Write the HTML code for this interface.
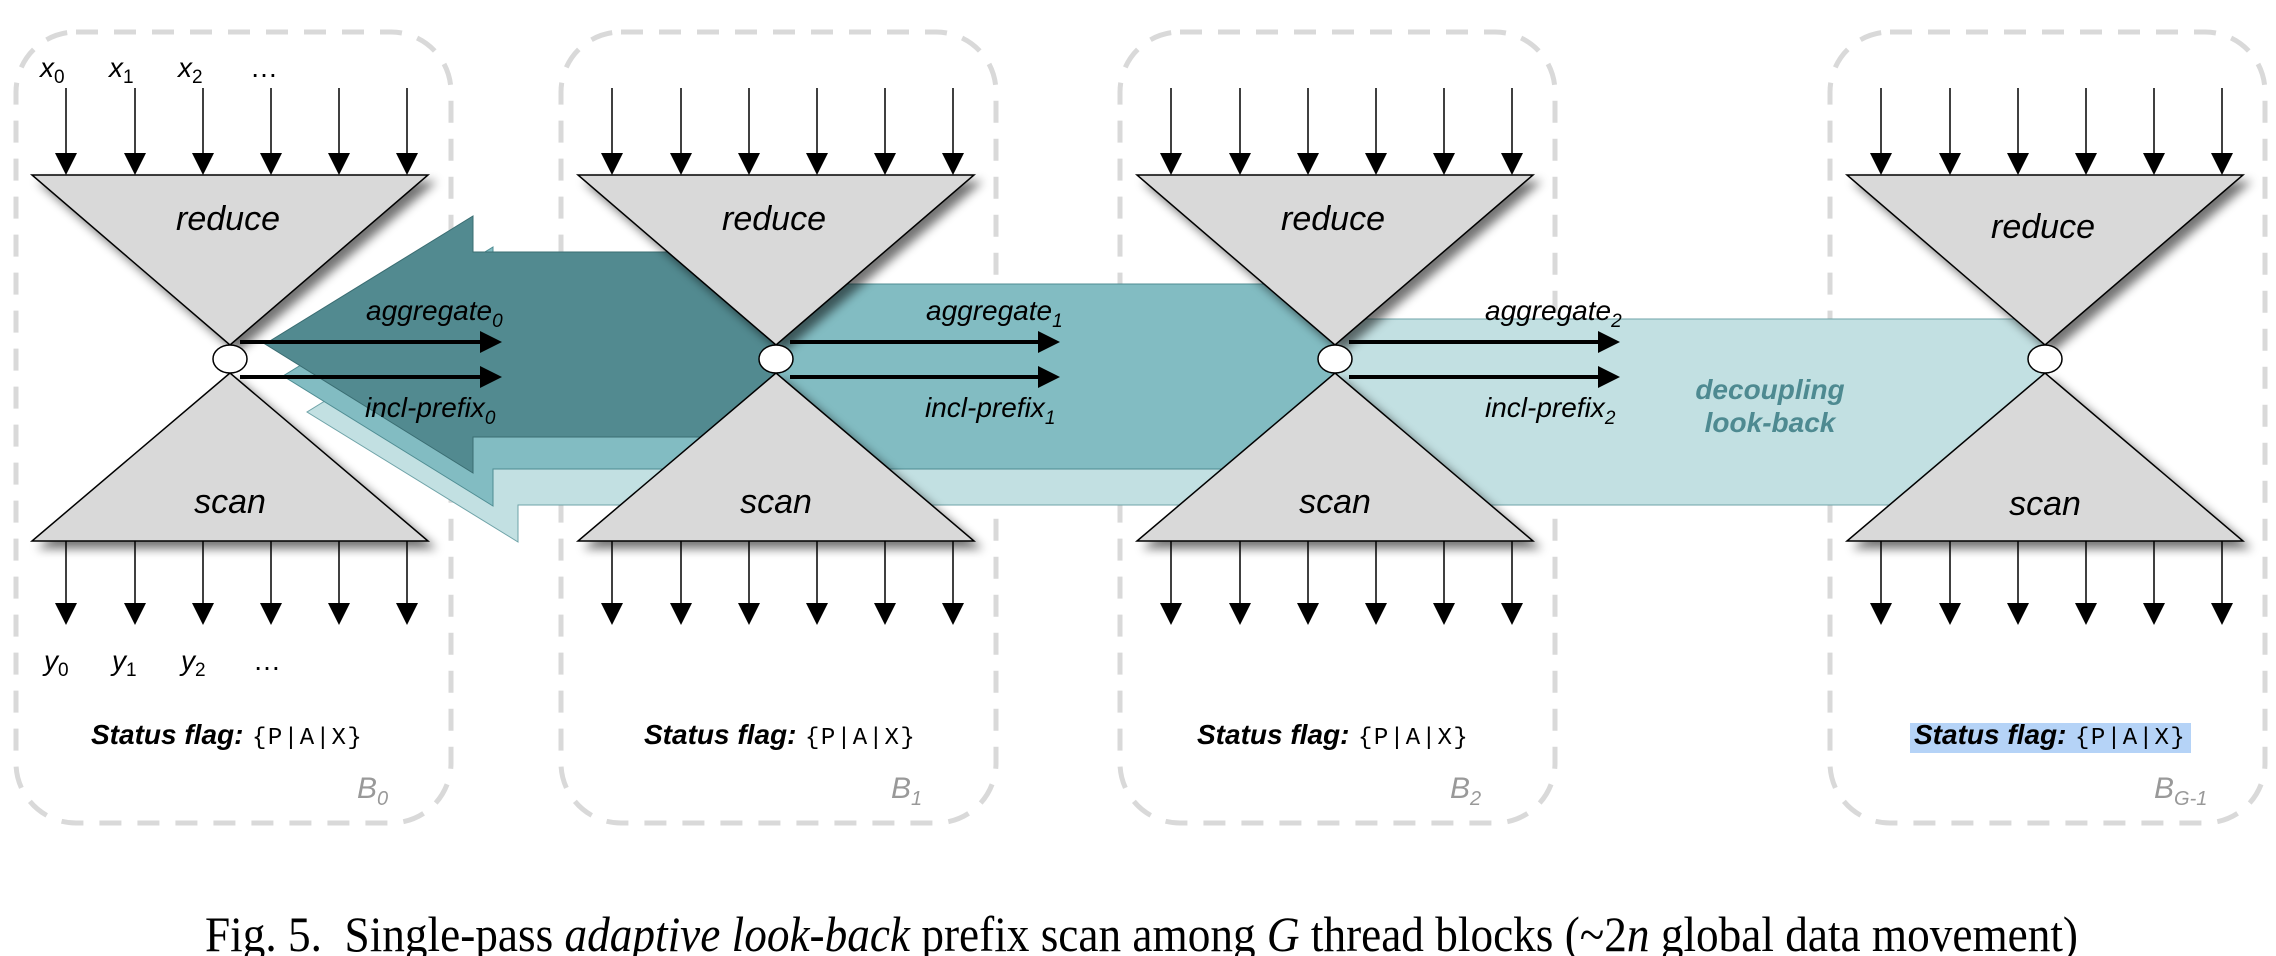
<!DOCTYPE html>
<html><head><meta charset="utf-8"><style>
html,body{margin:0;padding:0;background:#fff;}
svg{display:block;}
.s{font-family:"Liberation Sans",Arial,sans-serif;}
.m{font-family:"Liberation Mono",monospace;}
.c{font-family:"Liberation Serif","Times New Roman",serif;}
</style></head><body>
<svg width="2276" height="956" viewBox="0 0 2276 956" xmlns="http://www.w3.org/2000/svg">
<defs>
<filter id="sh" x="-20%" y="-20%" width="150%" height="150%">
<feGaussianBlur in="SourceAlpha" stdDeviation="5"/>
<feOffset dx="7" dy="7" result="b"/>
<feComponentTransfer><feFuncA type="linear" slope="0.55"/></feComponentTransfer>
<feMerge><feMergeNode/><feMergeNode in="SourceGraphic"/></feMerge>
</filter>
<g id="blk">
<g stroke="#000" stroke-width="1.5">
<line x1="66" y1="88" x2="66" y2="160"/><line x1="135" y1="88" x2="135" y2="160"/><line x1="203" y1="88" x2="203" y2="160"/><line x1="271" y1="88" x2="271" y2="160"/><line x1="339" y1="88" x2="339" y2="160"/><line x1="407" y1="88" x2="407" y2="160"/>
<line x1="66" y1="541" x2="66" y2="610"/><line x1="135" y1="541" x2="135" y2="610"/><line x1="203" y1="541" x2="203" y2="610"/><line x1="271" y1="541" x2="271" y2="610"/><line x1="339" y1="541" x2="339" y2="610"/><line x1="407" y1="541" x2="407" y2="610"/>
</g>
<g fill="#000">
<polygon points="55,153 77,153 66,175"/><polygon points="124,153 146,153 135,175"/><polygon points="192,153 214,153 203,175"/><polygon points="260,153 282,153 271,175"/><polygon points="328,153 350,153 339,175"/><polygon points="396,153 418,153 407,175"/>
<polygon points="55,603 77,603 66,625"/><polygon points="124,603 146,603 135,625"/><polygon points="192,603 214,603 203,625"/><polygon points="260,603 282,603 271,625"/><polygon points="328,603 350,603 339,625"/><polygon points="396,603 418,603 407,625"/>
</g>
<polygon points="32,175 428,175 230,345" fill="#d9d9d9" stroke="#000" stroke-width="1.5" filter="url(#sh)"/>
<polygon points="32,541 428,541 230,373" fill="#d9d9d9" stroke="#000" stroke-width="1.5" filter="url(#sh)"/>
<ellipse cx="230" cy="359" rx="17" ry="14" fill="#fff" stroke="#000" stroke-width="1.5"/>
</g>
</defs>

<g fill="none" stroke="#d9d9d9" stroke-width="5" stroke-dasharray="22 16">
<rect x="16" y="32" width="435" height="791" rx="60"/>
<rect x="561" y="32" width="435" height="791" rx="60"/>
<rect x="1120" y="32" width="435" height="791" rx="60"/>
<rect x="1830" y="32" width="435" height="791" rx="60"/>
</g>

<polygon points="2045,319 518,319 518,282 307,412 518,542 518,505 2045,505" fill="#c2e0e2" stroke="#6fa3a8" stroke-width="1"/>
<polygon points="1335,284 493,284 493,247 283,376 493,506 493,469 1335,469" fill="#82bcc2" stroke="#4f8d93" stroke-width="1"/>
<polygon points="776,252 473,252 473,216 265,344 473,473 473,437 776,437" fill="#528a90" stroke="#3a6d72" stroke-width="1"/>

<g class="s">
<text x="1770" y="399" text-anchor="middle" font-size="28" font-weight="bold" font-style="italic" fill="#4e8a91">decoupling</text>
<text x="1770" y="432" text-anchor="middle" font-size="28" font-weight="bold" font-style="italic" fill="#4e8a91">look-back</text>

<!-- B0 -->
<g>
<use href="#blk"/>
<text x="228" y="230" text-anchor="middle" font-size="34" font-style="italic">reduce</text>
<text x="230" y="513" text-anchor="middle" font-size="34" font-style="italic">scan</text>
<g stroke="#000" stroke-width="4"><line x1="240" y1="342" x2="482" y2="342"/><line x1="240" y1="377" x2="482" y2="377"/></g>
<polygon points="480,331 502,342 480,353" fill="#000"/><polygon points="480,366 502,377 480,388" fill="#000"/>
<text x="366" y="320" font-size="28" font-style="italic">aggregate<tspan font-size="19" dy="7">0</tspan></text>
<text x="365" y="417" font-size="28" font-style="italic">incl-prefix<tspan font-size="19" dy="7">0</tspan></text>
<text x="91" y="744" font-size="28" font-style="italic" font-weight="bold">Status flag:</text>
<text class="m" x="252" y="744" font-size="24" letter-spacing="1.5">{P|A|X}</text>
<text x="357" y="798" font-size="30" font-style="italic" fill="#999">B<tspan font-size="20" dy="7">0</tspan></text>
<text x="40" y="77" font-size="28" font-style="italic">x<tspan font-size="19" dy="6" font-style="normal">0</tspan></text>
<text x="109" y="77" font-size="28" font-style="italic">x<tspan font-size="19" dy="6" font-style="normal">1</tspan></text>
<text x="178" y="77" font-size="28" font-style="italic">x<tspan font-size="19" dy="6" font-style="normal">2</tspan></text>
<text x="250" y="77" font-size="28">…</text>
<text x="44" y="670" font-size="28" font-style="italic">y<tspan font-size="19" dy="6" font-style="normal">0</tspan></text>
<text x="112" y="670" font-size="28" font-style="italic">y<tspan font-size="19" dy="6" font-style="normal">1</tspan></text>
<text x="181" y="670" font-size="28" font-style="italic">y<tspan font-size="19" dy="6" font-style="normal">2</tspan></text>
<text x="253" y="670" font-size="28">…</text>
</g>

<!-- B1 -->
<g transform="translate(546,0)">
<use href="#blk"/>
<text x="228" y="230" text-anchor="middle" font-size="34" font-style="italic">reduce</text>
<text x="230" y="513" text-anchor="middle" font-size="34" font-style="italic">scan</text>
<g stroke="#000" stroke-width="4"><line x1="244" y1="342" x2="494" y2="342"/><line x1="244" y1="377" x2="494" y2="377"/></g>
<polygon points="492,331 514,342 492,353" fill="#000"/><polygon points="492,366 514,377 492,388" fill="#000"/>
<text x="380" y="320" font-size="28" font-style="italic">aggregate<tspan font-size="19" dy="7">1</tspan></text>
<text x="379" y="417" font-size="28" font-style="italic">incl-prefix<tspan font-size="19" dy="7">1</tspan></text>
<text x="98" y="744" font-size="28" font-style="italic" font-weight="bold">Status flag:</text>
<text class="m" x="259" y="744" font-size="24" letter-spacing="1.5">{P|A|X}</text>
<text x="345" y="798" font-size="30" font-style="italic" fill="#999">B<tspan font-size="20" dy="7">1</tspan></text>
</g>

<!-- B2 -->
<g transform="translate(1105,0)">
<use href="#blk"/>
<text x="228" y="230" text-anchor="middle" font-size="34" font-style="italic">reduce</text>
<text x="230" y="513" text-anchor="middle" font-size="34" font-style="italic">scan</text>
<g stroke="#000" stroke-width="4"><line x1="244" y1="342" x2="495" y2="342"/><line x1="244" y1="377" x2="495" y2="377"/></g>
<polygon points="493,331 515,342 493,353" fill="#000"/><polygon points="493,366 515,377 493,388" fill="#000"/>
<text x="380" y="320" font-size="28" font-style="italic">aggregate<tspan font-size="19" dy="7">2</tspan></text>
<text x="380" y="417" font-size="28" font-style="italic">incl-prefix<tspan font-size="19" dy="7">2</tspan></text>
<text x="92" y="744" font-size="28" font-style="italic" font-weight="bold">Status flag:</text>
<text class="m" x="253" y="744" font-size="24" letter-spacing="1.5">{P|A|X}</text>
<text x="345" y="798" font-size="30" font-style="italic" fill="#999">B<tspan font-size="20" dy="7">2</tspan></text>
</g>

<!-- BG-1 -->
<g transform="translate(1815,0)">
<use href="#blk"/>
<text x="228" y="238" text-anchor="middle" font-size="34" font-style="italic">reduce</text>
<text x="230" y="515" text-anchor="middle" font-size="34" font-style="italic">scan</text>
<rect x="95" y="723" width="281" height="30" fill="#b5d3f7"/>
<text x="99" y="744" font-size="28" font-style="italic" font-weight="bold">Status flag:</text>
<text class="m" x="260" y="744" font-size="24" letter-spacing="1.5">{P|A|X}</text>
<text x="339" y="798" font-size="30" font-style="italic" fill="#999">B<tspan font-size="20" dy="7">G-1</tspan></text>
</g>
</g>

<text class="c" x="205" y="951" font-size="50" textLength="1873" lengthAdjust="spacingAndGlyphs" xml:space="preserve">Fig. 5.  Single-pass <tspan font-style="italic">adaptive look-back</tspan> prefix scan among <tspan font-style="italic">G</tspan> thread blocks (~2<tspan font-style="italic">n</tspan> global data movement)</text>
</svg>
</body></html>
